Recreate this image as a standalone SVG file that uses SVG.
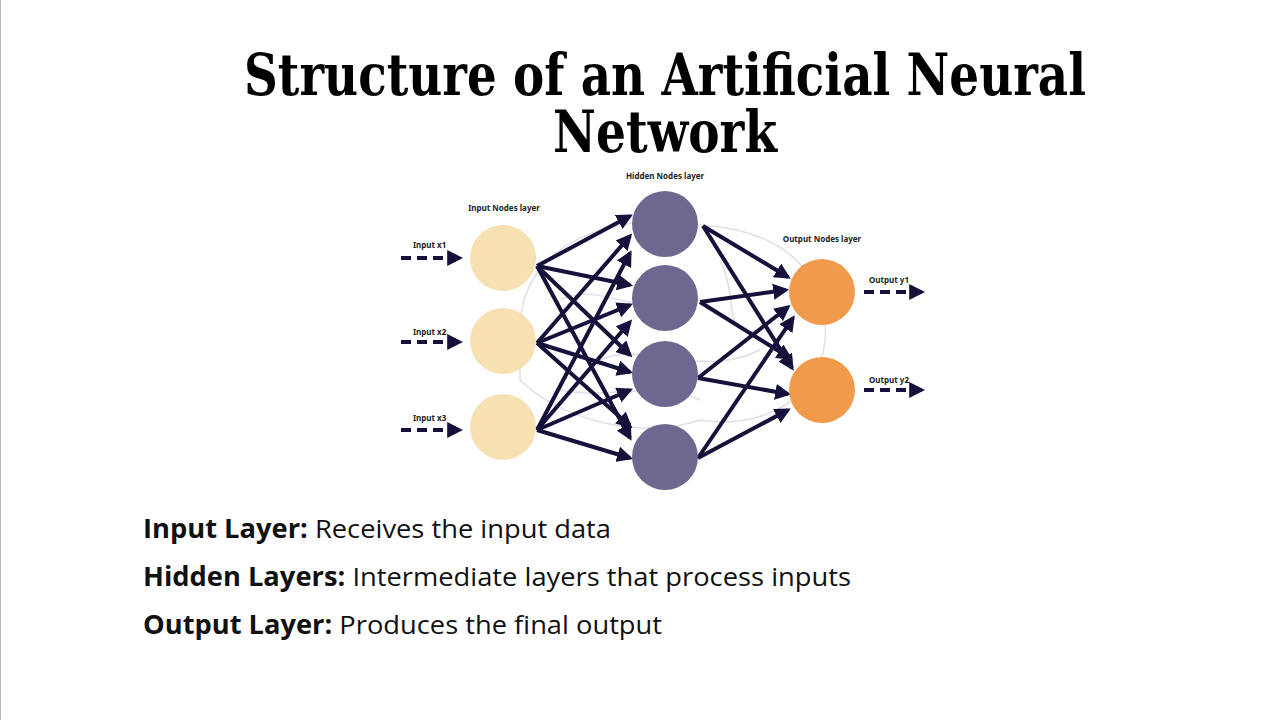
<svg xmlns="http://www.w3.org/2000/svg" width="1280" height="720" viewBox="0 0 1280 720">
<defs>
<marker id="ah" viewBox="0 0 10 10" refX="8" refY="5" markerWidth="4" markerHeight="4" orient="auto" markerUnits="strokeWidth"><path d="M0,0 L10,5 L0,10 z" fill="#14113a"/></marker>
<style>
.ttl{font-family:"DejaVu Serif",serif;font-weight:bold;font-size:57px;fill:#000}
.sm{font-family:"Noto Sans",sans-serif;font-weight:bold;font-size:8px;fill:#222}
.b{font-family:"Open Sans","Noto Sans",sans-serif;font-size:26px;fill:#111}
.e{stroke:#14113a;stroke-width:4;fill:none;marker-end:url(#ah)}
.d{stroke:#14113a;stroke-width:4;stroke-dasharray:10,6;fill:none;marker-end:url(#ah)}
.in{fill:#f7e1b3}.hd{fill:#6e6790}.out{fill:#f29a4c}
</style>
</defs>
<rect width="1280" height="720" fill="#fff"/>
<line x1="0.5" y1="0" x2="0.5" y2="720" stroke="#bbb"/>
<text class="ttl" x="665" y="95" text-anchor="middle" textLength="842" lengthAdjust="spacingAndGlyphs">Structure of an Artificial Neural</text>
<text class="ttl" x="665" y="152" text-anchor="middle" textLength="224" lengthAdjust="spacingAndGlyphs">Network</text>
<g fill="none" stroke="#d8d8e2" stroke-width="1.5" opacity="0.8">
<path d="M520,330 C520,240 620,210 700,225 C790,230 830,280 825,340 C820,400 760,430 700,420 C640,440 560,420 520,380 Z"/>
<path d="M560,300 C600,280 640,320 680,300 M600,360 C640,340 700,380 760,350 M560,390 C610,400 660,380 700,400 M720,260 C740,300 720,340 760,330"/>
</g>
<g class="sm">
<text x="504" y="211" text-anchor="middle">Input Nodes layer</text>
<text x="665" y="179" text-anchor="middle">Hidden Nodes layer</text>
<text x="822" y="242" text-anchor="middle">Output Nodes layer</text>
<text x="413" y="248">Input x1</text>
<text x="413" y="335">Input x2</text>
<text x="413" y="421">Input x3</text>
<text x="869" y="283">Output y1</text>
<text x="869" y="383">Output y2</text>
</g>
<g id="connectors">
<path class="d" d="M401,258 H460"/><path class="d" d="M401,342 H460"/><path class="d" d="M401,430 H460"/>
<path class="d" d="M864,292 H922"/><path class="d" d="M864,390 H922"/>
<path class="e" d="M537,266 L630,216"/><path class="e" d="M537,266 L630,285"/><path class="e" d="M537,266 L630,355"/><path class="e" d="M537,266 L630,438"/>
<path class="e" d="M537,343 L630,236"/><path class="e" d="M537,343 L630,305"/><path class="e" d="M537,343 L630,372"/><path class="e" d="M537,343 L630,426"/>
<path class="e" d="M537,430 L630,253"/><path class="e" d="M537,430 L630,322"/><path class="e" d="M537,430 L630,390"/><path class="e" d="M537,430 L630,458"/>
<path class="e" d="M703,226 L788,277"/><path class="e" d="M703,226 L792,368"/>
<path class="e" d="M700,302 L786,290"/><path class="e" d="M700,302 L790,358"/>
<path class="e" d="M698,378 L788,307"/><path class="e" d="M698,378 L788,394"/>
<path class="e" d="M698,458 L793,318"/><path class="e" d="M698,458 L788,410"/>
</g>
<g id="in1"><circle class="in" cx="503" cy="258" r="33"/></g>
<g id="in2"><circle class="in" cx="503" cy="341" r="33"/></g>
<g id="in3"><circle class="in" cx="503" cy="427" r="33"/></g>
<g id="h1"><circle class="hd" cx="665" cy="224" r="33"/></g>
<g id="h2"><circle class="hd" cx="665" cy="298" r="33"/></g>
<g id="h3"><circle class="hd" cx="665" cy="374" r="33"/></g>
<g id="h4"><circle class="hd" cx="665" cy="457" r="33"/></g>
<g id="o1"><circle class="out" cx="822" cy="292" r="33"/></g>
<g id="o2"><circle class="out" cx="822" cy="390" r="33"/></g>
<text class="b" x="143" y="538" textLength="468" lengthAdjust="spacingAndGlyphs"><tspan font-weight="bold">Input Layer:</tspan> Receives the input data</text>
<text class="b" x="143" y="586" textLength="708" lengthAdjust="spacingAndGlyphs"><tspan font-weight="bold">Hidden Layers:</tspan> Intermediate layers that process inputs</text>
<text class="b" x="143" y="634" textLength="519" lengthAdjust="spacingAndGlyphs"><tspan font-weight="bold">Output Layer:</tspan> Produces the final output</text>
</svg>
